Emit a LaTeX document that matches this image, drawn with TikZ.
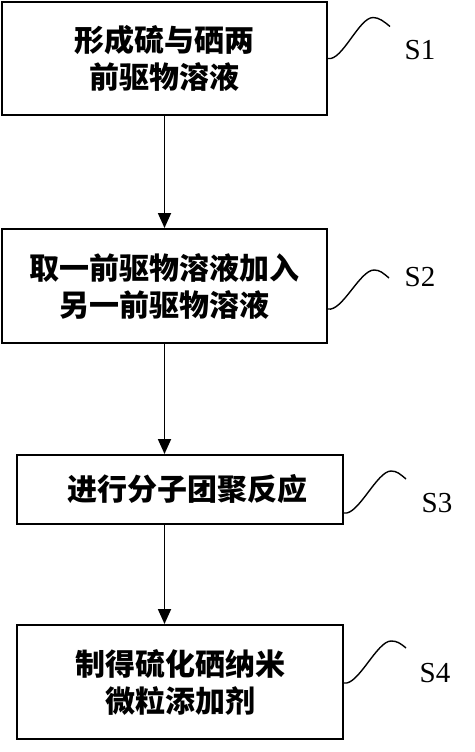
\documentclass[tikz,border=0pt]{standalone}
\usepackage{fontspec}
\setmainfont{Liberation Serif}
\newfontfamily\cjk{Noto Sans CJK SC}
\usetikzlibrary{arrows.meta}

\begin{document}
\begin{tikzpicture}[x=1pt,y=-1pt]
\useasboundingbox (0,0) rectangle (474,752);
\tikzset{box/.style={draw,line width=2pt,inner sep=0pt,align=center,font=\cjk\bfseries\fontsize{30}{37}\selectfont}}
\tikzset{tag/.style={font=\fontsize{29}{29}\selectfont}}
\tikzset{wave/.style={line width=1.4pt}}
\tikzset{flow/.style={-{Triangle[width=13pt,length=15pt]},line width=1.8pt}}
\node[box,minimum width=325pt,minimum height=113pt] (b1) at (164.5,58.5) {形成硫与硒两\\前驱物溶液};
\node[box,minimum width=325pt,minimum height=114pt] (b2) at (164.5,286) {取一前驱物溶液加入\\另一前驱物溶液};
\node[box,minimum width=326pt,minimum height=69pt] (b3) at (180,489.5) {\hspace*{14pt}进行分子团聚反应};
\node[box,minimum width=326pt,minimum height=114pt] (b4) at (180,682) {制得硫化硒纳米\\微粒添加剂};
\node[tag] (t1) at (420,50.5) {S1};
\node[tag] (t2) at (420,277) {S2};
\node[tag] (t3) at (437,503) {S3};
\node[tag] (t4) at (435,673) {S4};
\coordinate (w1) at (b1.east);
\coordinate (w2) at ([yshift=-23pt]b2.east);
\coordinate (w3) at ([yshift=-23.5pt]b3.east);
\coordinate (w4) at ([yshift=-1pt]b4.east);
\draw[flow] (b1) -- (b2);
\draw[flow] (b2) -- (b2 |- b3.north);
\draw[flow] (b3.south -| b2) -- (b4.north -| b2);
\draw[wave] (w1) .. controls +(14,3) and +(-14,0) .. ++(45,-41) .. controls +(6,0) and +(-6,-5) .. ++(17,9);
\draw[wave] (w2) .. controls +(14,3) and +(-14,0) .. ++(46,-39) .. controls +(6,0) and +(-6,-5) .. ++(15,8);
\draw[wave] (w3) .. controls +(14,3) and +(-14,0) .. ++(47,-42) .. controls +(6,0) and +(-6,-5) .. ++(15,8);
\draw[wave] (w4) .. controls +(14,3) and +(-14,0) .. ++(47,-42) .. controls +(6,0) and +(-6,-5) .. ++(15,7);
\end{tikzpicture}
\end{document}
